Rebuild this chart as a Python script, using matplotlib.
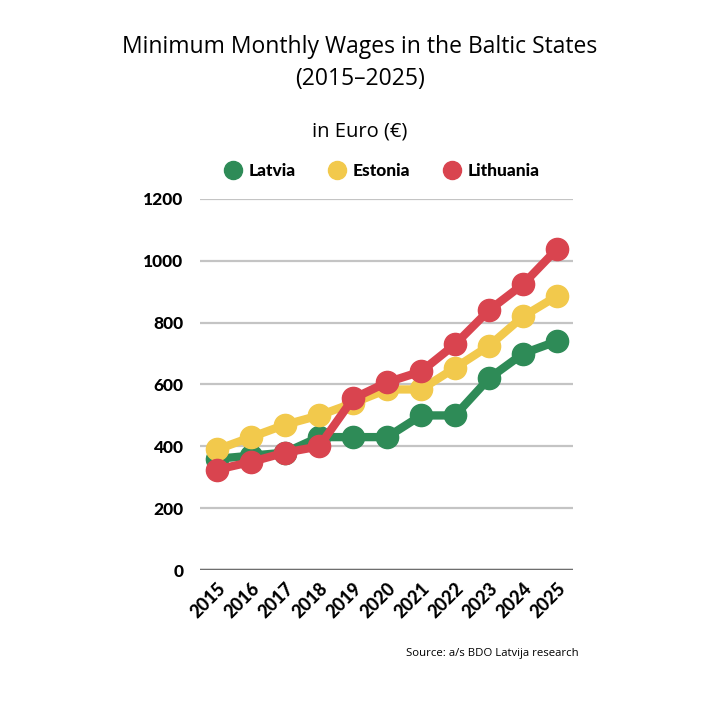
import matplotlib.pyplot as plt
from matplotlib.lines import Line2D

years = [2015, 2016, 2017, 2018, 2019, 2020, 2021, 2022, 2023, 2024, 2025]
latvia = [360, 370, 380, 430, 430, 430, 500, 500, 620, 700, 740]
estonia = [390, 430, 470, 500, 540, 584, 584, 654, 725, 820, 886]
lithuania = [325, 350, 380, 400, 555, 607, 642, 730, 840, 924, 1038]

series = [("Latvia", latvia, "#2e8b57"),
          ("Estonia", estonia, "#f2c94c"),
          ("Lithuania", lithuania, "#d9444f")]

fig = plt.figure(figsize=(7.2, 7.2), dpi=100)
ax = fig.add_axes([0.278, 0.208, 0.518, 0.516])

for i, (name, vals, color) in enumerate(series):
    ax.plot(years, vals, color=color, lw=6, marker="o", markersize=16,
            clip_on=False, zorder=3 + i, solid_capstyle="round")

ax.set_ylim(0, 1200)
ax.set_xlim(2014.5, 2025.47)
ax.set_yticks(range(0, 1201, 200))
ax.set_xticks(years)
ax.yaxis.grid(True, color="#c4c4c4", lw=1.6)
ax.set_axisbelow(True)
for s in ax.spines.values():
    s.set_visible(False)
ax.axhline(0, color="#6e6e6e", lw=2.5, zorder=2)
ax.tick_params(length=0)
ax.tick_params(axis="y", pad=12)
for lab in ax.get_yticklabels():
    lab.set_fontfamily("Lato")
    lab.set_fontweight("black")
    lab.set_fontsize(12.5)
ax.set_xticklabels([str(y) for y in years], rotation=45, ha="right",
                   rotation_mode="anchor", family="Lato", fontweight="black",
                   fontsize=13)
ax.tick_params(axis="x", pad=7)

fig.text(0.5, 0.912, "Minimum Monthly Wages in the Baltic States\n(2015\u20132025)",
         ha="center", va="center", fontsize=16.5, family="Open Sans",
         linespacing=1.45)
fig.text(0.5, 0.818, "in Euro (\u20ac)", ha="center", va="center",
         fontsize=14.5, family="Open Sans")

handles = [Line2D([], [], ls="", marker="o", markersize=13, color=c)
           for _, _, c in series]
fig.legend(handles, [n for n, _, _ in series], loc="center",
           bbox_to_anchor=(0.53, 0.762), ncol=3, frameon=False,
           prop={"family": "Lato", "weight": "black", "size": 12.5},
           handletextpad=0.4, columnspacing=1.9, handlelength=1.0)

fig.text(0.803, 0.093, "Source: a/s BDO Latvija research", ha="right",
         va="center", fontsize=8.2, family="Open Sans")

fig.savefig("out.png", dpi=100, facecolor="white")
